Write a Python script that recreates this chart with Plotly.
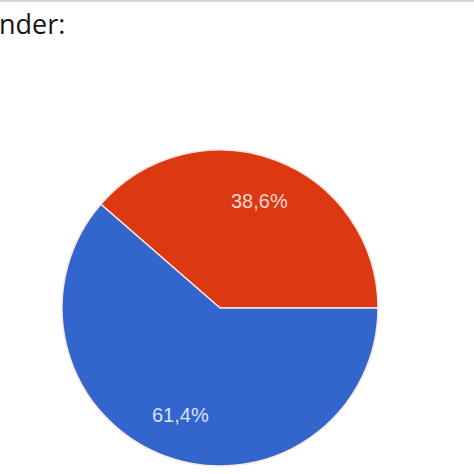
import math
import plotly.graph_objects as go

# %% Dados
labels = ["Female", "Male"]
values = [38.6, 61.4]
colors = ["#DC3912", "#3366CC"]
title_text = "nder:"

# %% Geometria do grafico (em pixels, figura 474x474)
W = H = 474
cx, cy, R = 220, 308, 158
label_r = 0.72

total = sum(values)
# primeira fatia termina em 3 horas (sentido horario a partir do canto superior esquerdo)
rotation = 90 - values[0] / total * 360

# %% Figura
fig = go.Figure(
    go.Pie(
        labels=labels,
        values=values,
        sort=False,
        direction="clockwise",
        rotation=rotation,
        marker=dict(colors=colors, line=dict(color="#fbe6e2", width=1.5)),
        textinfo="none",
        domain=dict(x=[(cx - R) / W, (cx + R) / W], y=[1 - (cy + R) / H, 1 - (cy - R) / H]),
        showlegend=False,
        hoverinfo="skip",
    )
)

# rotulos de percentual no estilo Google Forms (raio fixo, angulo medio da fatia)
start = 0.0
for v in values:
    mid = start + v / total * 180.0
    start += v / total * 360.0
    ang = math.radians(mid)
    fig.add_annotation(
        text=f"{v / total * 100:.1f}%".replace(".", ","),
        xref="paper",
        yref="paper",
        x=(cx + label_r * R * math.cos(ang)) / W,
        y=1 - (cy - label_r * R * math.sin(ang)) / H,
        xanchor="center",
        yanchor="middle",
        showarrow=False,
        font=dict(family="Liberation Sans, Arial", size=20, color="rgba(255,255,255,0.82)"),
    )

fig.add_annotation(
    text=title_text,
    xref="paper",
    yref="paper",
    x=-0.006,
    y=0.994,
    xanchor="left",
    yanchor="top",
    showarrow=False,
    font=dict(family="Open Sans, Noto Sans", size=27, color="#151515"),
)

fig.add_shape(
    type="line",
    xref="paper",
    yref="paper",
    x0=0,
    x1=1,
    y0=1 - 1 / H,
    y1=1 - 1 / H,
    line=dict(color="#d4d4d4", width=2),
)

fig.update_layout(
    width=W,
    height=H,
    margin=dict(l=0, r=0, t=0, b=0),
    paper_bgcolor="white",
    plot_bgcolor="white",
)

fig.write_html(
    "out.html",
    config={"displayModeBar": False},
    post_script="document.body.style.margin='0';",
)
